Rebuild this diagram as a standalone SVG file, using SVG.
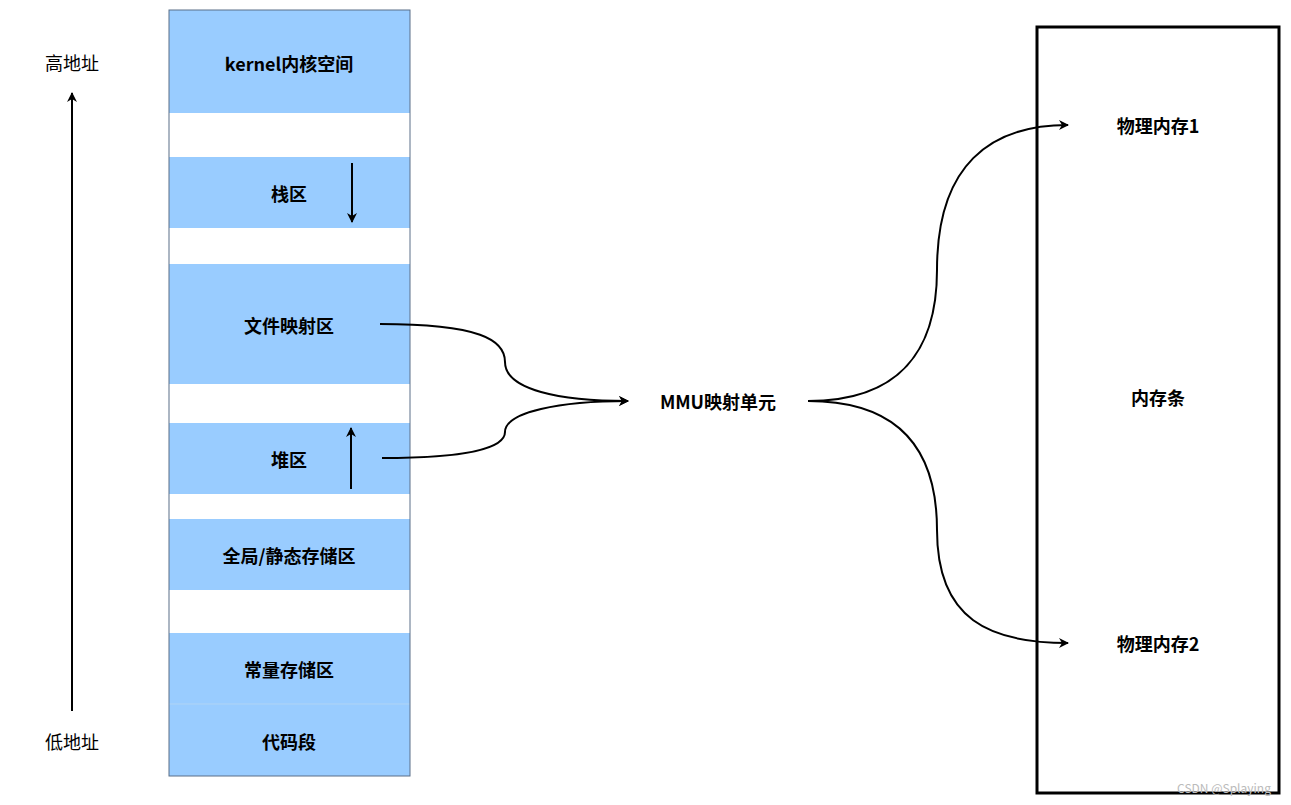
<svg xmlns="http://www.w3.org/2000/svg" width="1291" height="805" viewBox="0 0 1291 805">
<style>
text{font-family:"Noto Sans CJK SC","Noto Sans",sans-serif;font-size:18px;text-anchor:middle;dominant-baseline:central;fill:#000}
.b{font-weight:bold}
.band{fill:#99CCFF}
.c{fill:none;stroke:#000;stroke-width:2}
</style>
<defs><marker id="ah" markerWidth="10" markerHeight="10" refX="9" refY="5" orient="auto" markerUnits="userSpaceOnUse"><path d="M0,0 L10,5 L0,10 L3,5 z" fill="#000"/></marker></defs>
<rect width="1291" height="805" fill="#fff"/>
<g id="column">
<rect x="169" y="10" width="241" height="766" fill="#fff"/>
<rect class="band" x="169" y="10" width="241" height="103"/>
<rect class="band" x="169" y="157" width="241" height="71"/>
<rect class="band" x="169" y="264" width="241" height="120"/>
<rect class="band" x="169" y="423" width="241" height="71"/>
<rect class="band" x="169" y="519" width="241" height="71"/>
<rect class="band" x="169" y="633" width="241" height="71"/>
<rect class="band" x="169" y="704" width="241" height="72"/>
<line x1="169" y1="704" x2="410" y2="704" stroke="#b0d4f5" stroke-width="1"/>
<rect x="169" y="10" width="241" height="766" fill="none" stroke="#5a6f88" stroke-width="1"/>
</g>
<g id="kernel"><text class="b" x="289" y="63">kernel内核空间</text></g>
<g id="stack"><text class="b" x="289" y="193">栈区</text></g>
<g id="mmap"><text class="b" x="289" y="325">文件映射区</text></g>
<g id="heap"><text class="b" x="289" y="459">堆区</text></g>
<g id="global"><text class="b" x="289" y="555">全局/静态存储区</text></g>
<g id="const"><text class="b" x="289" y="669">常量存储区</text></g>
<g id="code"><text class="b" x="289" y="741">代码段</text></g>
<g id="high"><text x="72" y="62">高地址</text></g>
<g id="low"><text x="72" y="741">低地址</text></g>
<g id="mmu"><text class="b" x="718" y="401">MMU映射单元</text></g>
<g id="memory">
<rect x="1037" y="27" width="242" height="766" fill="none" stroke="#000" stroke-width="3"/>
<text class="b" x="1158" y="397">内存条</text>
<text class="b" x="1158" y="125">物理内存1</text>
<text class="b" x="1158" y="643">物理内存2</text>
</g>
<text x="1224" y="787" style="font-size:12px;fill:#bbb">CSDN @Splaying</text>
<g id="connectors">
<line class="c" x1="72" y1="711" x2="72" y2="93" marker-end="url(#ah)" stroke-width="3"/>
<line class="c" x1="352" y1="163" x2="352" y2="222" marker-end="url(#ah)"/>
<line class="c" x1="351" y1="489" x2="351" y2="428" marker-end="url(#ah)"/>
<path class="c" d="M380 324 C480 324 505 340 505 362 C505 390 560 401 628 401" marker-end="url(#ah)"/>
<path class="c" d="M382 458 C480 458 505 445 505 432 C505 412 560 401 628 401" marker-end="url(#ah)"/>
<path class="c" d="M808 401 C900 401 937 350 937 270 C937 165 990 125 1068 125" marker-end="url(#ah)"/>
<path class="c" d="M808 401 C900 401 937 450 937 530 C937 620 990 643 1068 643" marker-end="url(#ah)"/>
</g>
</svg>
